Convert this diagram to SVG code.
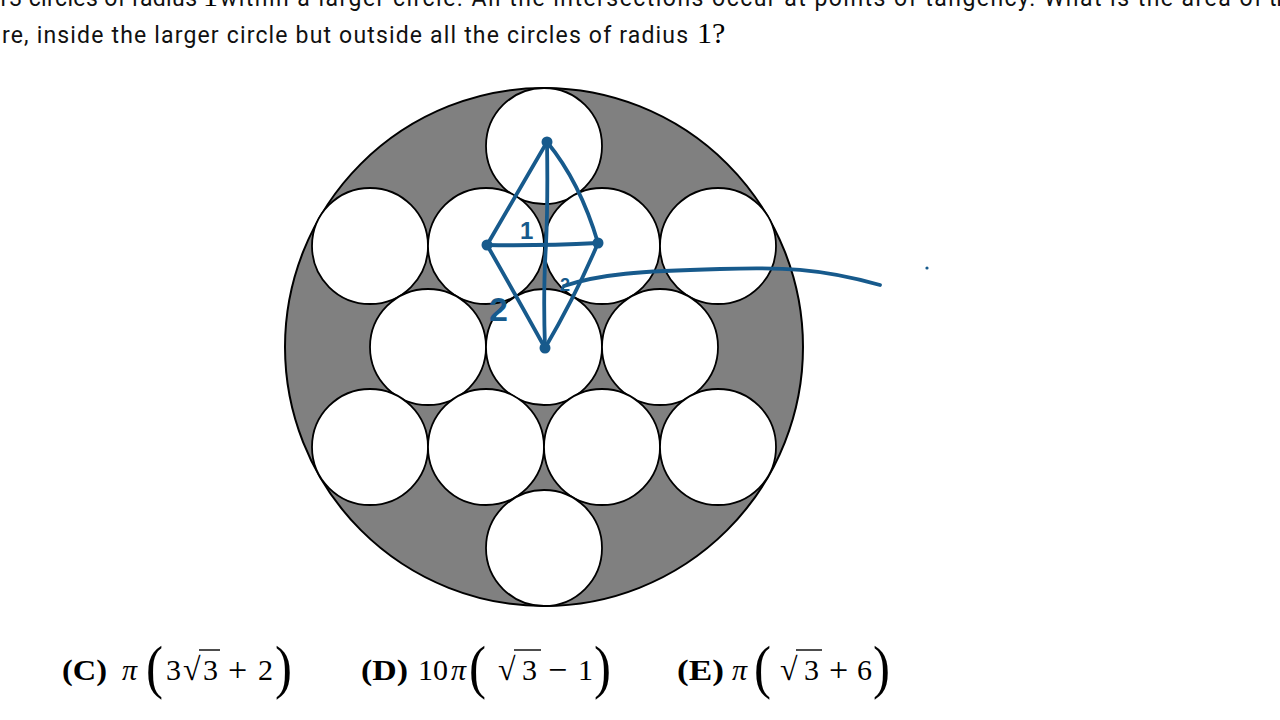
<svg xmlns="http://www.w3.org/2000/svg" width="1280" height="720" viewBox="0 0 1280 720">
<style>
.q{font-family:Roboto,"Liberation Sans",sans-serif;font-size:23px;fill:#111}
.m{font-family:"Liberation Serif","DejaVu Serif",serif;font-size:30px;fill:#000}
.op{font-family:"Liberation Serif","DejaVu Serif",serif;font-size:34px;fill:#000}
.rt{font-family:"Liberation Serif","DejaVu Serif",serif;font-size:32px;fill:#000}
.mb{font-family:"Liberation Serif","DejaVu Serif",serif;font-size:29px;font-weight:bold;fill:#000}
.mi{font-family:"Liberation Serif","DejaVu Serif",serif;font-size:30px;font-style:italic;fill:#000}
.par{font-family:"Liberation Serif","DejaVu Serif",serif;font-size:60px;fill:#000}
.sc{fill:#fff;stroke:#000;stroke-width:1.8}
.ink{fill:none;stroke:#175a8c;stroke-width:3.8;stroke-linecap:round;stroke-linejoin:round}
.dot{fill:#175a8c}
.hw{font-family:"Liberation Sans",sans-serif;fill:#175a8c;font-weight:bold}
.vin{stroke:#000;stroke-width:1.4}
</style>
<rect width="1280" height="720" fill="#fff"/>
<g id="question">
<text class="q" x="-4" y="6" textLength="201" lengthAdjust="spacing">13 circles of radius</text>
<text class="m" x="203" y="6" font-size="25">1</text>
<text class="q" x="220" y="6" textLength="1042" lengthAdjust="spacing">within a larger circle. All the intersections occur at points of tangency. What is the area of</text>
<text class="q" x="1269" y="6">the</text>
<text class="q" x="2" y="43" textLength="686" lengthAdjust="spacing">re, inside the larger circle but outside all the circles of radius</text>
<text class="m" x="697" y="43" font-size="27">1?</text>
</g>
<g id="figure">
<circle cx="544" cy="347" r="259" fill="#808080" stroke="#000" stroke-width="2"/>
<g id="circles">
<circle class="sc" cx="544" cy="146" r="58"/>
<circle class="sc" cx="370" cy="246" r="58"/>
<circle class="sc" cx="486" cy="246" r="58"/>
<circle class="sc" cx="602" cy="246" r="58"/>
<circle class="sc" cx="718" cy="246" r="58"/>
<circle class="sc" cx="428" cy="347" r="58"/>
<circle class="sc" cx="544" cy="347" r="58"/>
<circle class="sc" cx="660" cy="347" r="58"/>
<circle class="sc" cx="370" cy="447" r="58"/>
<circle class="sc" cx="486" cy="447" r="58"/>
<circle class="sc" cx="602" cy="447" r="58"/>
<circle class="sc" cx="718" cy="447" r="58"/>
<circle class="sc" cx="544" cy="548" r="58"/>
</g>
</g>
<g id="annotations">
<path class="ink" d="M547,142 L487,245"/>
<path class="ink" d="M547,142 Q580,182 598,243"/>
<path class="ink" d="M487,245 Q514,292 545,348"/>
<path class="ink" d="M598,243 Q576,295 545,348"/>
<path class="ink" d="M547,142 Q548,200 546,245 Q543,290 545,348"/>
<path class="ink" d="M487,245 Q540,246 598,243"/>
<path class="ink" d="M564,286 C600,274 640,271 720,269 C780,267 820,268 880,285"/>
<circle class="dot" cx="547" cy="142" r="5.5"/>
<circle class="dot" cx="487" cy="245" r="5.5"/>
<circle class="dot" cx="598" cy="243" r="5.5"/>
<circle class="dot" cx="545" cy="348" r="5.5"/>
<circle class="dot" cx="927" cy="268" r="1.6"/>
<text class="hw" x="520" y="239" font-size="24">1</text>
<text class="hw" x="489" y="321" font-size="34">2</text>
<text class="hw" x="560" y="291" font-size="18">2</text>
</g>
<g id="answers">
<text class="mb" x="62" y="680" textLength="45" lengthAdjust="spacingAndGlyphs">(C)</text>
<text class="mi" x="122" y="680">π</text>
<text class="par" x="146" y="687" textLength="17" lengthAdjust="spacingAndGlyphs">(</text>
<text class="m" x="166" y="680">3</text>
<text class="rt" x="183" y="680">√</text>
<line class="vin" x1="199" y1="650" x2="220" y2="650"/>
<text class="m" x="203" y="680">3</text>
<text class="op" x="228" y="681">+</text>
<text class="m" x="258" y="680">2</text>
<text class="par" x="275" y="687" textLength="17" lengthAdjust="spacingAndGlyphs">)</text>

<text class="mb" x="361" y="680" textLength="47" lengthAdjust="spacingAndGlyphs">(D)</text>
<text class="m" x="418" y="680">10</text>
<text class="mi" x="451" y="680">π</text>
<text class="par" x="469" y="687" textLength="17" lengthAdjust="spacingAndGlyphs">(</text>
<text class="rt" x="498" y="680">√</text>
<line class="vin" x1="514" y1="650" x2="541" y2="650"/>
<text class="m" x="522" y="680">3</text>
<text class="op" x="548" y="681">−</text>
<text class="m" x="578" y="680">1</text>
<text class="par" x="594" y="687" textLength="17" lengthAdjust="spacingAndGlyphs">)</text>

<text class="mb" x="677" y="680" textLength="47" lengthAdjust="spacingAndGlyphs">(E)</text>
<text class="mi" x="732" y="680">π</text>
<text class="par" x="754" y="687" textLength="17" lengthAdjust="spacingAndGlyphs">(</text>
<text class="rt" x="780" y="680">√</text>
<line class="vin" x1="796" y1="650" x2="822" y2="650"/>
<text class="m" x="804" y="680">3</text>
<text class="op" x="829" y="681">+</text>
<text class="m" x="857" y="680">6</text>
<text class="par" x="873" y="687" textLength="17" lengthAdjust="spacingAndGlyphs">)</text>
</g>
</svg>
